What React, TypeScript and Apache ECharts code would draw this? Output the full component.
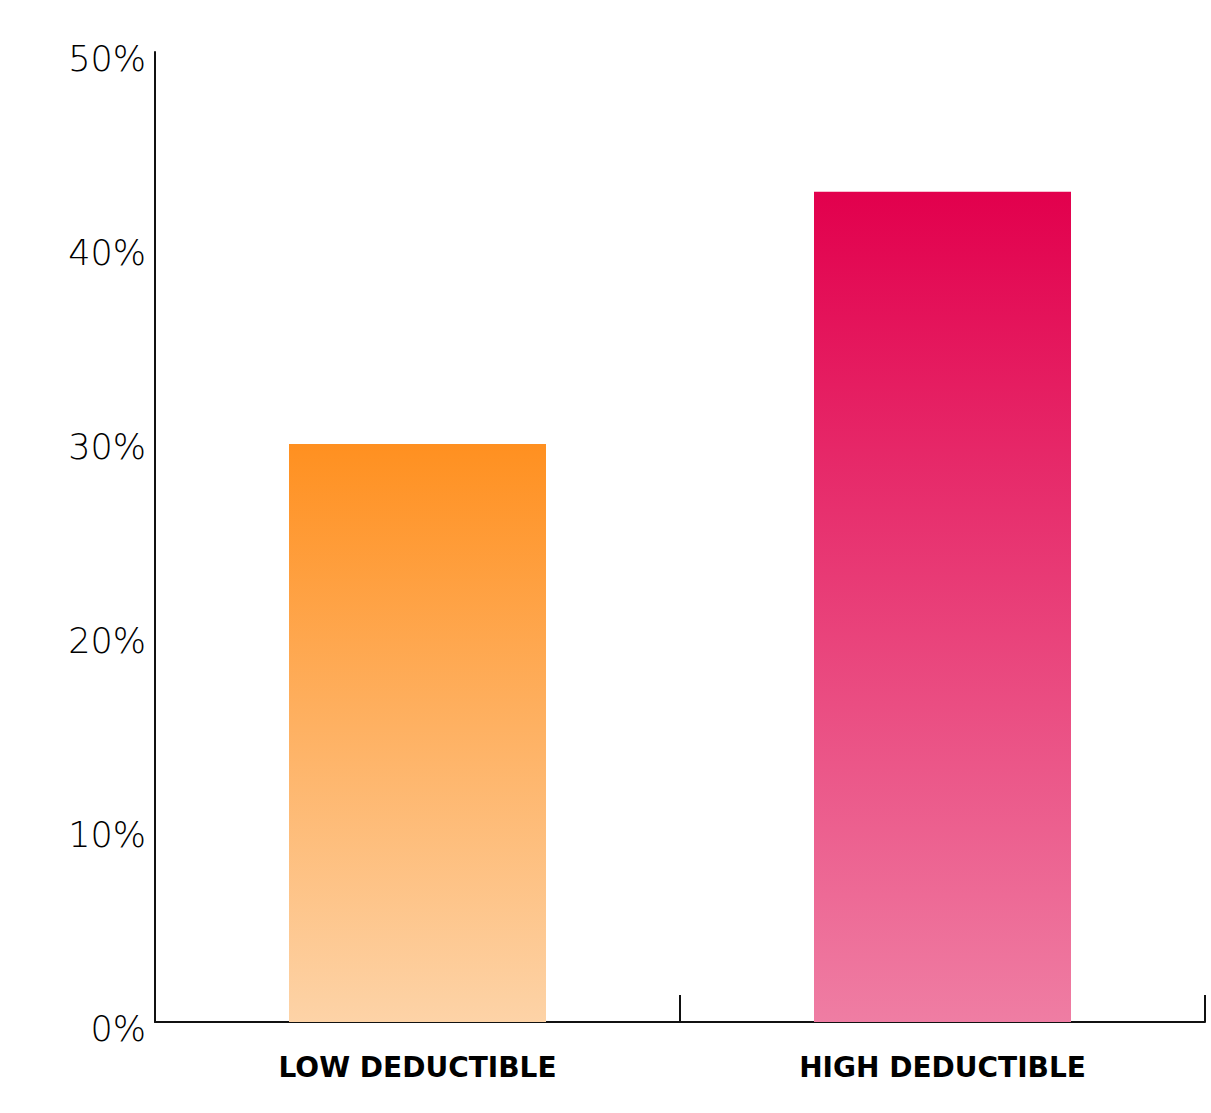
import { useEffect, useRef } from "react";
import * as echarts from "echarts";

const categories = ["LOW DEDUCTIBLE", "HIGH DEDUCTIBLE"];
const shares = [29.8, 42.8];
const topColors = ["#FF9020", "#E2004D"];
const bottomColors = ["#FDD3A7", "#EF7DA3"];

export default function App() {
  const chartRef = useRef<HTMLDivElement>(null);

  useEffect(() => {
    if (!chartRef.current) return;
    const chart = echarts.init(chartRef.current, undefined, { renderer: "svg" });

    const option = {
      backgroundColor: "#ffffff",
      animation: false,
      grid: {
        left: 155,
        right: 6,
        top: 52,
        bottom: 91,
      },
      xAxis: {
        type: "category",
        data: categories,
        axisLine: { lineStyle: { color: "#111111", width: 2 } },
        axisTick: {
          show: true,
          inside: true,
          length: 27,
          interval: 0,
          alignWithLabel: false,
          lineStyle: { color: "#111111", width: 2 },
        },
        axisLabel: {
          color: "#000000",
          fontFamily: "'DejaVu Sans', sans-serif",
          fontWeight: "bold",
          fontSize: 28,
          margin: 31,
        },
      },
      yAxis: {
        type: "value",
        min: 0,
        max: 50,
        interval: 10,
        axisLine: { show: true, lineStyle: { color: "#111111", width: 2 } },
        axisTick: { show: false },
        splitLine: { show: false },
        axisLabel: {
          color: "#000000",
          fontFamily: "'DejaVu Sans', sans-serif",
          fontWeight: 200,
          fontSize: 35,
          margin: 9,
          verticalAlign: "top",
          lineHeight: 14,
          formatter: (v: number) => v + "%",
        },
      },
      series: [
        {
          type: "bar",
          barWidth: 257,
          data: shares.map((v, i) => ({
            value: v,
            itemStyle: {
              color: new echarts.graphic.LinearGradient(0, 0, 0, 1, [
                { offset: 0, color: topColors[i] },
                { offset: 1, color: bottomColors[i] },
              ]),
            },
          })),
        },
      ],
    };

    chart.setOption(option);

    return () => {
      chart.dispose();
    };
  }, []);

  return (
    <div
      ref={chartRef}
      style={{ position: "fixed", left: 0, top: 0, width: 1211, height: 1113 }}
    ></div>
  );
}
